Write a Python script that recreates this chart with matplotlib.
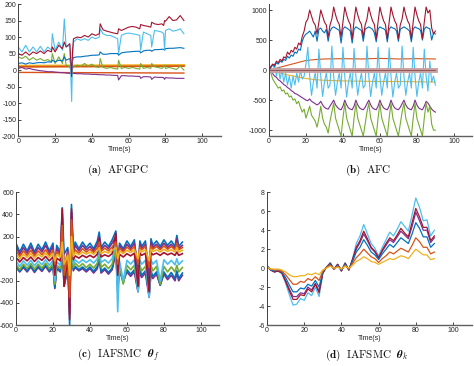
"""
plot.py
四个子图：AFGPC / AFC / IAFSMC theta_f / IAFSMC theta_k 的参数随时间变化曲线。
"""

import matplotlib
matplotlib.use('Agg')
import matplotlib.pyplot as plt

# ---------- MATLAB 默认配色 ----------
BLUE = '#0072BD'
ORANGE = '#D95319'
YELLOW = '#EDB120'
PURPLE = '#7E2F8E'
GREEN = '#77AC30'
CYAN = '#4DBEEE'
DRED = '#A2142F'

# ---------- (a) AFGPC ----------
t_a = [0, 2, 4, 6, 8, 10, 12, 14, 16, 18, 18.5, 20, 22, 24, 25, 26, 28, 29, 29.5, 30,
       32, 34, 36, 38, 40, 42, 44, 44.5, 46, 48, 50, 52, 54, 54.5, 56, 58, 60, 62, 64, 66,
       66.5, 68, 70, 72, 72.5, 74, 76, 78, 79, 79.5, 80, 82, 84, 86, 88, 90]
a_red = [50, 45, 55, 45, 55, 50, 58, 50, 60, 55, 70, 55, 75, 65, 85, 70, 80, -20, 60, 95,
         100, 98, 105, 100, 110, 105, 110, 140, 122, 118, 115, 112, 110, 125, 120, 125, 130, 132, 130, 125,
         138, 135, 133, 130, 145, 140, 138, 140, 135, 150, 148, 162, 150, 152, 165, 150]
a_cyan = [70, 55, 75, 55, 70, 55, 72, 55, 70, 60, 110, 60, 85, 60, 155, 70, 75, -95, 40, 85,
          95, 90, 95, 90, 100, 95, 100, 125, 110, 105, 105, 100, 95, 50, 105, 110, 112, 110, 108, 105,
          60, 115, 110, 105, 70, 120, 118, 115, 110, 60, 120, 125, 118, 120, 125, 110]
a_blue = [20, 22, 18, 22, 20, 22, 23, 22, 25, 24, 30, 25, 30, 28, 40, 30, 35, 0, 30, 38,
          40, 40, 42, 43, 45, 45, 46, 55, 48, 48, 50, 50, 50, 45, 52, 54, 55, 56, 57, 57,
          52, 58, 60, 60, 57, 62, 62, 63, 63, 60, 65, 66, 66, 67, 68, 66]
a_green = [40, 35, 42, 30, 38, 30, 35, 28, 32, 25, 50, 20, 40, 20, 50, 15, 10, -10, 5, 10,
           15, 12, 20, 12, 18, 10, 8, 35, 8, 5, 8, 5, 3, 30, 5, 8, 5, 8, 5, 3,
           20, 5, 8, 5, 20, 10, 8, 5, 10, 15, 5, 8, 5, 2, 12, 0]
a_purple = [5, 8, 3, 5, 2, 0, -2, -3, -5, -5, -5, -6, -7, -8, -8, -9, -10, -12, -10, -10,
            -11, -11, -12, -12, -13, -13, -14, -14, -14, -15, -15, -16, -16, -30, -17, -17, -18, -18, -19, -19,
            -25, -20, -20, -21, -28, -21, -22, -22, -23, -28, -23, -24, -24, -25, -25, -25]
t_a_flat = [0, 90]
a_yellow = [12, 14]
a_orange = [10, 12]
a_orange2 = [-7, -9]

# ---------- (b) AFC ----------
t_b = list(range(0, 91))
b_red = [0, 60, 100, 80, 150, 120, 180, 150, 220, 200,
         300, 260, 330, 300, 380, 350, 450, 420, 560, 650,
         800, 850, 1000, 900, 800, 750, 600, 800, 1000, 900,
         800, 750, 550, 750, 850, 1050, 920, 820, 760, 550,
         800, 1050, 920, 820, 760, 520, 820, 1050, 920, 820,
         760, 550, 750, 850, 1050, 920, 820, 760, 520, 800,
         1050, 920, 820, 760, 520, 800, 1050, 920, 820, 760,
         520, 750, 850, 1050, 920, 820, 760, 520, 800, 1050,
         920, 820, 760, 520, 800, 1050, 950, 1000, 700, 600,
         650]
b_blue = [0, 50, 80, 60, 120, 100, 150, 130, 180, 160,
          230, 200, 250, 230, 300, 280, 350, 330, 480, 560,
          600, 620, 650, 600, 550, 650, 480, 680, 700, 650,
          620, 680, 480, 650, 700, 720, 700, 680, 660, 450,
          680, 720, 700, 680, 650, 450, 680, 720, 700, 680,
          660, 480, 680, 700, 720, 700, 680, 620, 470, 680,
          720, 700, 690, 660, 470, 680, 720, 700, 690, 650,
          480, 680, 700, 720, 700, 680, 650, 470, 680, 720,
          700, 690, 660, 500, 680, 720, 700, 690, 500, 620,
          600]
b_cyan = [0, 50, -50, 100, -100, 50, -150, 0, -200, -50,
          -250, -100, -300, -100, -250, -50, -200, 0, -150, -100,
          100, 380, -100, -420, -200, -50, -300, 350, -100, -440,
          -200, -50, -300, -250, 400, -100, -420, -200, -50, -300,
          380, -100, -450, -200, -50, -300, 360, -100, -420, -200,
          -50, -300, -250, 400, -100, -440, -200, -50, -300, 380,
          -100, -420, -200, -50, -300, 370, -100, -450, -200, -50,
          -300, -250, 400, -100, -420, -200, -50, -300, 380, -100,
          -440, -200, -50, -300, 350, -100, -350, 150, -200, -100,
          -250]
b_green = [0, -50, -150, -200, -250, -300, -280, -350, -330, -400,
           -380, -450, -430, -500, -480, -560, -520, -620, -700, -650,
           -800, -700, -600, -750, -800, -850, -950, -800, -600, -800,
           -900, -950, -1050, -850, -700, -550, -800, -900, -1000, -1100,
           -800, -550, -800, -900, -1000, -1100, -800, -550, -800, -900,
           -1000, -1100, -900, -700, -550, -800, -900, -1000, -1100, -800,
           -550, -800, -900, -1000, -1100, -800, -550, -800, -900, -1000,
           -1100, -900, -700, -550, -800, -900, -1000, -1100, -800, -550,
           -800, -900, -1000, -1100, -800, -550, -700, -600, -900, -1000,
           -1000]
b_purple = [0, -30, -60, -100, -120, -160, -180, -210, -240, -260,
            -290, -310, -340, -360, -390, -400, -420, -440, -460, -480,
            -500, -510, -480, -520, -540, -560, -580, -560, -520, -580,
            -620, -640, -650, -600, -550, -500, -580, -620, -650, -660,
            -600, -500, -580, -630, -650, -660, -600, -500, -580, -630,
            -650, -660, -620, -560, -500, -580, -630, -650, -660, -600,
            -500, -580, -630, -650, -660, -600, -500, -580, -630, -650,
            -660, -620, -560, -500, -580, -630, -650, -660, -600, -500,
            -580, -630, -650, -660, -600, -520, -550, -600, -650, -680,
            -700]
t_b_slow = [0, 5, 10, 15, 20, 25, 30, 40, 50, 60, 70, 80, 90]
b_orange = [0, 40, 80, 120, 160, 175, 185, 190, 185, 195, 185, 190, 185]
b_yellow = [0, -40, -80, -110, -140, -160, -170, -180, -185, -190, -190, -195, -200]
t_b_flat = [0, 90]
b_zero = [0, 0]

# ---------- (c) IAFSMC theta_f ----------
t_c = [0, 2, 4, 6, 8, 10, 12, 14, 16, 18, 20, 21, 22, 24, 25, 26, 28, 29, 30, 31,
       32, 34, 36, 38, 40, 42, 44, 45, 46, 48, 50, 52, 54, 55, 56, 58, 60, 62, 64, 66,
       67, 68, 70, 72, 73, 74, 76, 78, 80, 82, 84, 86, 87, 88, 90]
c_blue = [140, 60, 130, 70, 140, 60, 130, 80, 150, 70, 140, -150, 120, 60, 460, 40, 100, -600, 490, 60,
          150, 90, 150, 100, 140, 90, 160, 240, 100, 150, 110, 170, 250, -150, 140, 90, 160, 110, 170, -150,
          160, 110, 160, -200, 180, 120, 160, 110, 170, 120, 160, 110, 210, 110, 150]
c_purple = [110, 40, 100, 50, 110, 40, 100, 60, 120, 50, 110, -100, 90, 40, 400, -100, 80, -500, 420, 40,
            120, 70, 120, 80, 110, 70, 130, 200, 80, 120, 90, 140, 200, -100, 120, 70, 130, 90, 140, -100,
            130, 90, 130, -150, 150, 100, 130, 90, 140, 100, 130, 90, 180, 90, 120]
c_blue2 = [-70, -115, -65, -110, -60, -115, -65, -105, -55, -110, -60, -260, -80, -110, 120, -240, -90, -450, 300, -100,
           -70, -100, -75, -105, -75, -115, -70, 30, -115, -85, -125, -85, 80, -300, -95, -220, -100, -140, -100, -290,
           -100, -150, -110, -330, -110, -160, -120, -240, -120, -170, -125, -180, -110, -180, -130]
c_purple2 = [-80, -120, -80, -120, -75, -125, -80, -115, -70, -120, -80, -270, -90, -120, 100, -250, -100, -250, 200, -110,
             -80, -110, -90, -120, -90, -130, -90, 0, -130, -100, -140, -100, 50, -250, -110, -200, -120, -160, -120, -300,
             -120, -170, -130, -350, -130, -180, -140, -240, -140, -190, -150, -200, -130, -200, -150]
c_green = [-50, -100, -50, -90, -45, -95, -50, -85, -40, -90, -45, -230, -60, -90, 150, -220, -70, -300, 250, -80,
           -40, -75, -45, -80, -50, -85, -40, 50, -80, -50, -90, -50, 100, -200, -60, -230, -60, -100, -60, -280,
           -60, -110, -70, -300, -60, -110, -70, -230, -70, -120, -75, -120, -60, -120, -80]
c_cyan = [-20, -70, -20, -60, -15, -65, -20, -55, -10, -60, -15, -200, -30, -60, 250, -200, -40, -400, 350, -50,
          -10, -40, -10, -35, -10, -40, 0, 100, -35, -10, -40, 0, 150, -480, -20, -200, -15, -50, -10, -300,
          -15, -50, -15, -350, -10, -50, -15, -200, -10, -50, -15, -55, 0, -55, -20]
c_dred = [10, -30, 10, -20, 15, -25, 10, -15, 20, -20, 15, -150, 5, -20, 450, -250, 0, -550, 450, -10,
          25, 5, 30, 10, 30, 10, 40, 180, 15, 35, 20, 45, 230, -150, 40, 15, 45, 25, 50, -250,
          50, 30, 50, -300, 55, 35, 50, 30, 55, 35, 50, 30, 60, 30, 45]
c_red = [70, 20, 70, 30, 75, 25, 70, 35, 80, 30, 75, -50, 60, 30, 300, -150, 50, -350, 350, 30,
         80, 50, 90, 60, 85, 55, 100, 150, 65, 95, 70, 105, 150, -50, 95, 60, 105, 75, 110, -50,
         105, 80, 110, -80, 115, 85, 110, 80, 115, 85, 110, 80, 140, 80, 100]
c_yellow = [40, 0, 40, 10, 45, 5, 40, 15, 50, 10, 45, -20, 35, 15, 150, -50, 30, -150, 200, 20,
            55, 35, 60, 40, 60, 40, 70, 100, 45, 65, 50, 75, 100, 0, 70, 45, 75, 55, 80, 0,
            80, 60, 80, -20, 85, 65, 80, 60, 85, 65, 80, 60, 100, 60, 75]

# ---------- (d) IAFSMC theta_k ----------
t_d = list(range(0, 91, 2))
d_cyan = [0.3, -0.2, -0.4, -0.3, -0.6, -1.6, -2.8, -3.9, -3.8, -3.2,
          -3.4, -2.6, -2.9, -2.0, -3.0, -0.6, 0.1, 0.6, -0.1, 0.4,
          -0.3, 0.6, -0.2, 1.0, 2.6, 3.4, 4.6, 3.6, 2.6, 2.1,
          1.3, 2.2, 3.0, 3.8, 3.4, 4.1, 4.9, 4.4, 3.9, 5.6,
          7.4, 6.4, 5.0, 5.1, 3.4, 4.0]
d_purple = [0.2, -0.2, -0.4, -0.3, -0.5, -1.3, -2.2, -3.0, -3.0, -2.6,
            -2.7, -2.0, -2.3, -1.6, -2.4, -0.5, 0.1, 0.5, -0.1, 0.4,
            -0.3, 0.5, -0.2, 0.9, 2.0, 2.7, 3.6, 2.9, 2.1, 1.7,
            1.0, 1.8, 2.4, 3.0, 2.7, 3.3, 3.9, 3.5, 3.1, 4.4,
            5.9, 5.0, 4.0, 4.0, 2.7, 3.2]
d_dred = [0.2, -0.2, -0.4, -0.3, -0.5, -1.4, -2.4, -3.3, -3.3, -2.8,
          -2.9, -2.2, -2.5, -1.7, -2.6, -0.5, 0.1, 0.5, -0.1, 0.4,
          -0.3, 0.5, -0.2, 0.9, 2.2, 2.9, 3.9, 3.1, 2.2, 1.8,
          1.1, 1.9, 2.6, 3.2, 2.9, 3.5, 4.2, 3.7, 3.3, 4.8,
          6.3, 5.4, 4.3, 4.3, 2.9, 3.4]
d_blue = [0.2, -0.2, -0.3, -0.2, -0.4, -1.0, -1.8, -2.5, -2.5, -2.1,
          -2.2, -1.7, -1.9, -1.3, -2.0, -0.4, 0.1, 0.4, -0.1, 0.3,
          -0.2, 0.4, -0.1, 0.7, 1.7, 2.2, 3.0, 2.4, 1.7, 1.4,
          0.9, 1.5, 2.0, 2.5, 2.2, 2.7, 3.2, 2.9, 2.6, 3.6,
          4.8, 4.2, 3.3, 3.3, 2.2, 2.6]
d_orange = [0.1, -0.1, -0.2, -0.2, -0.3, -0.7, -1.2, -1.7, -1.7, -1.4,
            -1.5, -1.1, -1.3, -0.9, -1.3, -0.3, 0.1, 0.3, -0.1, 0.2,
            -0.1, 0.3, -0.1, 0.5, 1.1, 1.5, 2.0, 1.6, 1.2, 1.0,
            0.6, 1.0, 1.3, 1.7, 1.5, 1.8, 2.1, 1.9, 1.7, 2.4,
            3.2, 2.8, 2.2, 2.2, 1.5, 1.7]
d_yellow = [0.1, -0.1, -0.1, -0.1, -0.2, -0.4, -0.7, -0.9, -0.9, -0.8,
            -0.8, -0.6, -0.7, -0.5, -0.7, -0.2, 0.0, 0.2, 0.0, 0.1,
            -0.1, 0.2, 0.0, 0.3, 0.7, 0.9, 1.2, 1.0, 0.7, 0.6,
            0.4, 0.6, 0.8, 1.0, 0.9, 1.1, 1.3, 1.2, 1.0, 1.5,
            2.0, 1.7, 1.4, 1.4, 0.9, 1.0]

x_ticks = [0, 20, 40, 60, 80, 100]
a_yticks = [-200, -150, -100, -50, 0, 50, 100, 150, 200]
b_yticks = [-1000, -500, 0, 500, 1000]
c_yticks = [-600, -400, -200, 0, 200, 400, 600]
d_yticks = [-6, -4, -2, 0, 2, 4, 6, 8]


def style_axes(ax, ylim, yticks):
    """MATLAB 风格：只留左、下坐标轴，刻度朝内。"""
    ax.set_xlim(0, 110)
    ax.set_ylim(*ylim)
    ax.set_xticks(x_ticks)
    ax.set_yticks(yticks)
    ax.spines['top'].set_visible(False)
    ax.spines['right'].set_visible(False)
    ax.spines['left'].set_color('#404040')
    ax.spines['left'].set_linewidth(0.7)
    ax.spines['bottom'].set_color('#606060')
    ax.spines['bottom'].set_linewidth(1.0)
    ax.tick_params(direction='in', length=2, width=0.6, labelsize=5,
                   pad=1.5, colors='#262626')
    ax.set_xlabel('Time(s)', fontsize=5, labelpad=0.5, color='#262626')


def main():
    plt.rcParams['font.family'] = ['Liberation Sans', 'DejaVu Sans']
    plt.rcParams['axes.unicode_minus'] = False
    plt.rcParams['mathtext.fontset'] = 'cm'

    fig = plt.figure(figsize=(4.74, 3.66), dpi=100)

    # ---------- (a) ----------
    ax = fig.add_axes([0.0386, 0.628, 0.427, 0.361])
    ax.plot(t_a_flat, a_orange2, color=ORANGE, lw=1.0)
    ax.plot(t_a_flat, a_yellow, color=YELLOW, lw=2.0)
    ax.plot(t_a_flat, a_orange, color=ORANGE, lw=1.2)
    ax.plot(t_a, a_purple, color=PURPLE, lw=0.8)
    ax.plot(t_a, a_green, color=GREEN, lw=0.8)
    ax.plot(t_a, a_blue, color=BLUE, lw=0.8)
    ax.plot(t_a, a_cyan, color=CYAN, lw=0.8)
    ax.plot(t_a, a_red, color=DRED, lw=0.8)
    style_axes(ax, (-200, 200), a_yticks)

    # ---------- (b) ----------
    ax = fig.add_axes([0.5675, 0.628, 0.429, 0.361])
    ax.plot(t_b_slow, b_yellow, color=YELLOW, lw=0.8)
    ax.plot(t_b_slow, b_orange, color=ORANGE, lw=0.8)
    ax.plot(t_b, b_purple, color=PURPLE, lw=0.8)
    ax.plot(t_b, b_green, color=GREEN, lw=0.8)
    ax.plot(t_b, b_cyan, color=CYAN, lw=0.8)
    ax.plot(t_b_flat, b_zero, color='#C8A0A0', lw=3.5)
    ax.plot(t_b_flat, b_zero, color='#8C4A4A', lw=0.6)
    ax.plot(t_b, b_blue, color=BLUE, lw=0.8)
    ax.plot(t_b, b_red, color=DRED, lw=0.8)
    style_axes(ax, (-1100, 1100), b_yticks)

    # ---------- (c) ----------
    ax = fig.add_axes([0.0338, 0.112, 0.429, 0.3626])
    for vals, col in [(c_blue, BLUE), (c_purple2, PURPLE), (c_blue2, BLUE),
                      (c_purple, PURPLE), (c_green, GREEN), (c_cyan, CYAN),
                      (c_dred, DRED), (c_red, ORANGE), (c_yellow, YELLOW)]:
        ax.plot(t_c, vals, color=col, lw=1.2)
    style_axes(ax, (-600, 600), c_yticks)

    # ---------- (d) ----------
    ax = fig.add_axes([0.5633, 0.112, 0.4316, 0.3626])
    for vals, col in [(d_cyan, CYAN), (d_purple, PURPLE), (d_dred, DRED),
                      (d_blue, BLUE), (d_orange, ORANGE), (d_yellow, YELLOW)]:
        ax.plot(t_d, vals, color=col, lw=0.9)
    style_axes(ax, (-6, 8), d_yticks)

    # ---------- 子图标题 ----------
    cap = dict(ha='center', va='center', fontsize=8, color='#111111')
    fig.text(0.249, 0.535, r'$\mathbf{(a)}\ \ \mathrm{AFGPC}$', **cap)
    fig.text(0.776, 0.535, r'$\mathbf{(b)}\ \ \mathrm{AFC}$', **cap)
    fig.text(0.249, 0.030, r'$\mathbf{(c)}\ \ \mathrm{IAFSMC}\ \ \boldsymbol{\theta}_f$', **cap)
    fig.text(0.775, 0.030, r'$\mathbf{(d)}\ \ \mathrm{IAFSMC}\ \ \boldsymbol{\theta}_k$', **cap)

    fig.savefig('out.png', dpi=100)


if __name__ == '__main__':
    main()
